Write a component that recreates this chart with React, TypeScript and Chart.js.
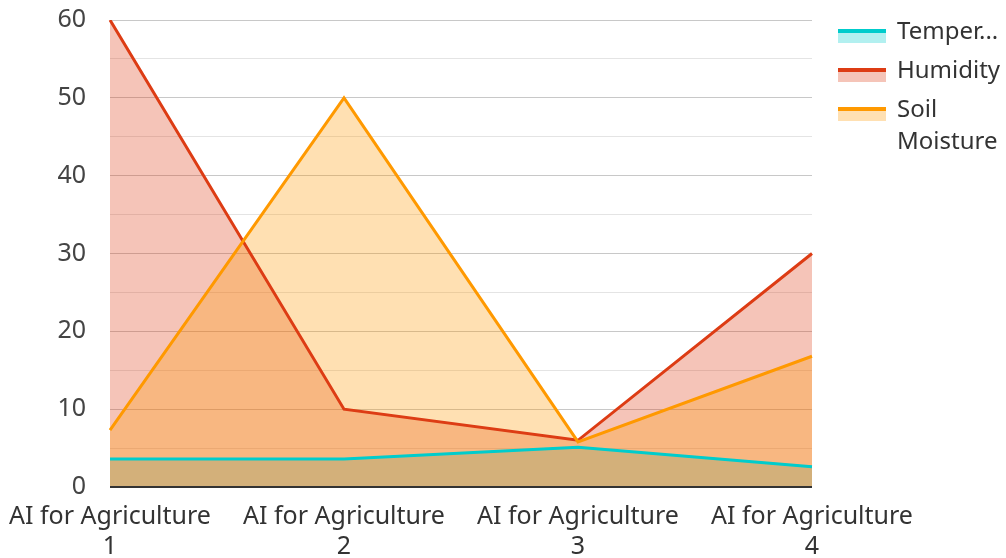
import React, { useEffect, useRef } from "react";
import { Chart, registerables } from "chart.js";

Chart.register(...registerables);

const categories: string[][] = [
  ["AI for Agriculture", "1"],
  ["AI for Agriculture", "2"],
  ["AI for Agriculture", "3"],
  ["AI for Agriculture", "4"],
];
const seriesNames = ["Temperature", "Humidity", "Soil Moisture"];
const temperature = [3.6, 3.6, 5.1, 2.6];
const humidity = [60, 10, 6, 30];
const soilMoisture = [7.3, 50, 5.8, 16.8];
const lineColors = ["#00cccc", "#dd3c14", "#ff9900"];
const fillColors = ["rgba(0,204,204,0.3)", "rgba(221,60,20,0.3)", "rgba(255,153,0,0.3)"];

const FONT = '"Noto Sans", sans-serif';
const FS = 24;
const AXIS_FS = 25;

const axisLinePlugin = {
  id: "axisLine",
  afterDatasetsDraw(chart: any) {
    const { ctx, chartArea } = chart;
    ctx.save();
    ctx.strokeStyle = "#333333";
    ctx.lineWidth = 2;
    ctx.beginPath();
    ctx.moveTo(chartArea.left, chartArea.bottom);
    ctx.lineTo(chartArea.right, chartArea.bottom);
    ctx.stroke();
    ctx.restore();
  },
};

const legendPlugin = {
  id: "customLegend",
  afterDraw(chart: any) {
    const ctx = chart.ctx as CanvasRenderingContext2D;
    ctx.save();
    ctx.font = `${FS}px ${FONT}`;
    ctx.textBaseline = "middle";
    ctx.textAlign = "left";
    const boxX = 838;
    const boxW = 48;
    const textX = 897;
    const maxW = 106;
    const lineH = 32;
    let y = 32;
    chart.data.datasets.forEach((ds: any) => {
      const label: string = ds.label;
      let lines: string[] = [];
      if (ctx.measureText(label).width <= maxW) lines = [label];
      else if (label.includes(" ")) lines = label.split(" ");
      else {
        let t = label;
        while (t.length > 1 && ctx.measureText(t + "...").width > maxW) t = t.slice(0, -1);
        lines = [t + "..."];
      }
      ctx.fillStyle = ds.backgroundColor;
      ctx.fillRect(boxX, y - 3, boxW, 14);
      ctx.fillStyle = ds.borderColor;
      ctx.fillRect(boxX, y - 3, boxW, 4);
      ctx.fillStyle = "#333333";
      lines.forEach((ln, i) => ctx.fillText(ln, textX, y + i * lineH));
      y += 39 + (lines.length - 1) * lineH;
    });
    ctx.restore();
  },
};

export default function App() {
  const ref = useRef<HTMLCanvasElement | null>(null);
  useEffect(() => {
    document.body.style.margin = "0";
    const values = [temperature, humidity, soilMoisture];
    const orders = [3, 2, 1];
    const chart = new Chart(ref.current as HTMLCanvasElement, {
      type: "line",
      data: {
        labels: categories,
        datasets: values.map((v, i) => ({
          label: seriesNames[i],
          data: v,
          borderColor: lineColors[i],
          backgroundColor: fillColors[i],
          borderWidth: 3,
          pointRadius: 0,
          tension: 0,
          fill: "origin",
          order: orders[i],
        })),
      },
      options: {
        animation: false,
        responsive: true,
        maintainAspectRatio: false,
        layout: { padding: { left: 0, right: 194, top: 20, bottom: 0 } },
        plugins: {
          legend: { display: false },
          tooltip: { enabled: false },
          filler: { drawTime: "beforeDatasetsDraw" },
        } as any,
        scales: {
          x: {
            offset: false,
            grid: { display: false, drawTicks: false },
            border: { display: false },
            ticks: {
              color: "#333333",
              font: { family: FONT, size: AXIS_FS, lineHeight: 1.2 },
              padding: 15,
              maxRotation: 0,
              autoSkip: false,
            },
            afterFit(scale: any) {
              scale.height = 71;
              scale.paddingTop = 0;
              scale.paddingBottom = 0;
              scale.paddingLeft = 0;
              scale.paddingRight = 0;
            },
          },
          y: {
            min: 0,
            max: 60,
            grid: {
              drawTicks: false,
              color: (c: any) => (c.tick && c.tick.value % 10 === 0 ? "#c8c8c8" : "#e4e4e4"),
              lineWidth: 1,
            },
            border: { display: false },
            ticks: {
              stepSize: 5,
              color: "#444444",
              font: { family: FONT, size: AXIS_FS },
              padding: 24,
              callback: (v: any) => (Number(v) % 10 === 0 ? String(v) : ""),
            },
            afterFit(scale: any) {
              scale.width = 110;
              scale.paddingTop = 0;
              scale.paddingBottom = 0;
            },
          },
        },
      },
      plugins: [axisLinePlugin, legendPlugin],
    });
    return () => chart.destroy();
  }, []);
  return (
    <div style={{ width: 1006, height: 558, position: "relative" }}>
      <canvas ref={ref} />
    </div>
  );
}
